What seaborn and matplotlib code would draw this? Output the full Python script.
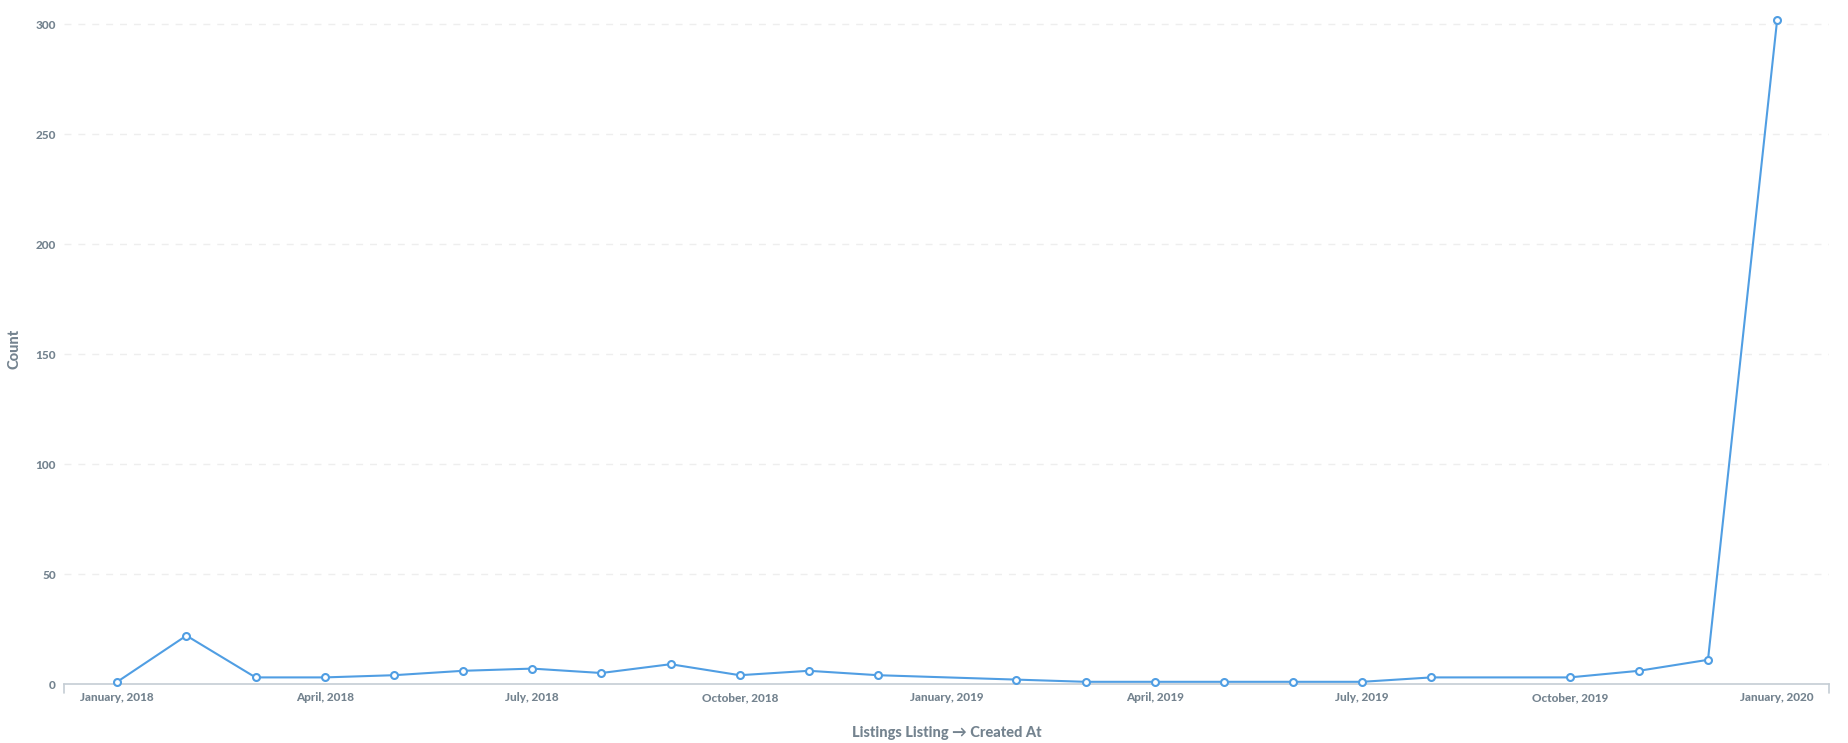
import pandas as pd
import numpy as np
import matplotlib.pyplot as plt
import seaborn as sns

# monthly listing counts (Jan 2019 and Sep 2019 have no rows)
months = ["2018-01", "2018-02", "2018-03", "2018-04", "2018-05", "2018-06",
          "2018-07", "2018-08", "2018-09", "2018-10", "2018-11", "2018-12",
          "2019-02", "2019-03", "2019-04", "2019-05", "2019-06", "2019-07",
          "2019-08", "2019-10", "2019-11", "2019-12", "2020-01"]
counts = [1, 22, 3, 3, 4, 6, 7, 5, 9, 4, 6, 4,
          2, 1, 1, 1, 1, 1, 3, 3, 6, 11, 302]
y_ticks = [0, 50, 100, 150, 200, 250, 300]
x_ticks = ["2018-01", "2018-04", "2018-07", "2018-10", "2019-01",
           "2019-04", "2019-07", "2019-10", "2020-01"]

# the chart spaces months evenly, so use a month index on x
def month_index(m):
    d = pd.Timestamp(m)
    return (d.year - 2018) * 12 + d.month - 1

df = pd.DataFrame({"idx": [month_index(m) for m in months], "count": counts})

sns.set_style("white")
plt.rcParams["font.family"] = ["Lato", "DejaVu Sans"]

blue = "#509ee3"
grey = "#74838f"

fig = plt.figure(figsize=(18.49, 7.43), dpi=100)
ax = fig.add_axes([0.0346, 0.0794, 0.9546, 0.903])

sns.lineplot(data=df, x="idx", y="count", ax=ax, color=blue, linewidth=1.5,
             marker="o", markersize=5, markerfacecolor="white",
             markeredgecolor=blue, markeredgewidth=1.5, clip_on=False, zorder=5)

ax.set_xlim(-0.77, 24.75)
ax.set_ylim(0, 305)

ax.set_yticks(y_ticks)
ax.set_xticks([month_index(m) for m in x_ticks])
ax.set_xticklabels([pd.Timestamp(m).strftime("%B, %Y") for m in x_ticks])

for v in y_ticks[1:]:
    ax.axhline(v, color="#eeeeee", linewidth=1, linestyle=(0, (5, 5)), zorder=0)

for s in ["top", "right", "left"]:
    ax.spines[s].set_visible(False)
ax.spines["bottom"].set_color("#c5cdd4")
ax.spines["bottom"].set_linewidth(1.2)
# little end marks on the x axis line
for xe in [0, 1]:
    ax.plot([xe, xe], [0, -0.013], transform=ax.transAxes, color="#c5cdd4",
            linewidth=1.2, clip_on=False)

ax.tick_params(axis="both", length=0, labelsize=8.5, labelcolor=grey)
ax.tick_params(axis="x", pad=6)
ax.tick_params(axis="y", pad=6)
for lab in ax.get_xticklabels() + ax.get_yticklabels():
    lab.set_fontweight("black")

ax.set_xlabel("Listings Listing \u2192 Created At", fontsize=10.5, color=grey,
              fontweight="black", labelpad=16)
ax.set_ylabel("Count", fontsize=10.5, color=grey, fontweight="black", labelpad=10)

fig.savefig("out.png", dpi=100)
